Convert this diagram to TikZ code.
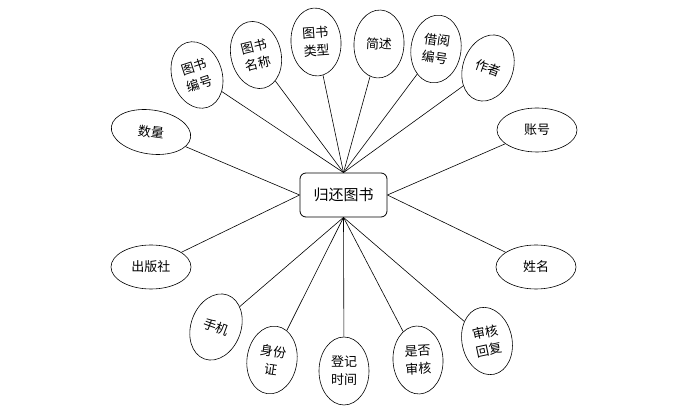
\documentclass[tikz,border=0pt]{standalone}
\usepackage{fontspec}
\setmainfont{Noto Sans CJK SC}
\usetikzlibrary{shapes.geometric, calc}

\begin{document}
\begin{tikzpicture}[
x=1pt, y=1pt,
attr/.style={draw, ellipse, line width=0.6pt, inner sep=0pt, minimum width=80pt, minimum height=44pt,
  align=center, font=\fontsize{13}{18}\selectfont},
tall/.style={attr, minimum width=50pt, minimum height=68pt},
entity/.style={draw, line width=0.8pt, rounded corners=6pt, minimum width=87pt, minimum height=44pt,
  font=\fontsize{15}{18}\selectfont},
link/.style={line width=0.6pt}
]
\useasboundingbox (-343.5,-216) rectangle (340.5,195);

% --- Entité ---
\node[entity] (ret) at (0,0) {归还图书};

% --- Attributs du haut ---
\node[attr, rotate=-8] (qty) at ($(ret)+(-192.5,63)$) {数量};
\node[tall, rotate=18] (bid) at ($(ret)+(-146.5,120)$) {图书\\编号};
\node[tall, rotate=14] (bname) at ($(ret)+(-87.5,140)$) {图书\\名称};
\node[tall, rotate=4] (btype) at ($(ret)+(-27.5,153)$) {图书\\类型};
\node[tall, rotate=-3] (desc) at ($(ret)+(35.5,151)$) {简述};
\node[tall, rotate=-8] (lid) at ($(ret)+(92.5,146)$) {借阅\\编号};
\node[tall, rotate=-20] (auth) at ($(ret)+(144.5,127)$) {作者};
\node[attr] (acc) at ($(ret)+(193.5,65)$) {账号};

% --- Attributs du bas ---
\node[attr] (pub) at ($(ret)+(-192.5,-72)$) {出版社};
\node[tall, rotate=-20] (phone) at ($(ret)+(-127.5,-132)$) {手机};
\node[tall, rotate=-8] (idc) at ($(ret)+(-71.5,-165)$) {身份\\证};
\node[tall] (rtime) at ($(ret)+(0.5,-176)$) {登记\\时间};
\node[tall, rotate=3] (chk) at ($(ret)+(74.5,-165)$) {是否\\审核};
\node[tall, rotate=12] (reply) at ($(ret)+(143.5,-146)$) {审核\\回复};
\node[attr] (name) at ($(ret)+(192.5,-72)$) {姓名};

% --- Liaisons ---
\draw[link] (qty) -- (ret.west);
\draw[link] (pub) -- (ret.west);
\draw[link] (acc) -- (ret.east);
\draw[link] (name) -- (ret.east);
\draw[link] (bid) -- (ret.north);
\draw[link] (bname) -- (ret.north);
\draw[link] (btype) -- (ret.north);
\draw[link] (desc) -- (ret.north);
\draw[link] (lid) -- (ret.north);
\draw[link] (auth) -- (ret.north);
\draw[link] (phone) -- (ret.south);
\draw[link] (idc) -- (ret.south);
\draw[link] (rtime) -- (ret.south);
\draw[link] (chk) -- (ret.south);
\draw[link] (reply) -- (ret.south);

\end{tikzpicture}
\end{document}
